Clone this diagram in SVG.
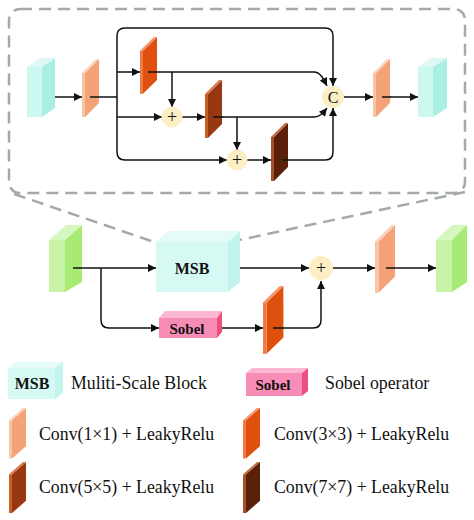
<svg xmlns="http://www.w3.org/2000/svg" xmlns:xlink="http://www.w3.org/1999/xlink" width="474" height="520" viewBox="0 0 474 520">
<style>
.ln{fill:none;stroke:#111;stroke-width:1.5}
.ar{marker-end:url(#ah)}
.dash{fill:none;stroke:#a3aaa8;stroke-width:2.5;stroke-dasharray:12 7}
.cyF{fill:#cdf8f0}.cyS{fill:#a9f0e3}.cyT{fill:#def9f5}
.msF{fill:#d6f9f4}.msS{fill:#c2f4ed}.msT{fill:#e4fbf8}
.grF{fill:#c8f3a6}.grS{fill:#a8eb74}.grT{fill:#d6f7bf}
.sbF{fill:#f78db6}.sbS{fill:#ee4f80}.sbT{fill:#fbb6d1}
.c1{--f:#f8c4a6;--s:#f4a277;--t:#fbd3bd}
.c3{--f:#f07a45;--s:#df4f0e;--t:#f4936a}
.c5{--f:#c85f28;--s:#983810;--t:#d9794a}
.c7{--f:#a5522a;--s:#5a2108;--t:#c0693f}
.f{fill:var(--f)}.s{fill:var(--s)}.t{fill:var(--t)}
.circ{fill:#fcefc6}
.tx{font-family:"Liberation Serif","Times New Roman",serif;fill:#111}
.bd{font-weight:bold}
.lg{font-size:17.8px}
</style>
<defs>
<marker id="ah" viewBox="0 0 10 10" refX="10" refY="5" markerWidth="9" markerHeight="8" markerUnits="userSpaceOnUse" orient="auto"><path d="M0,0 L10,5 L0,10 z" fill="#111"/></marker>
<g id="slab">
<path class="s" d="M3,14 L17,0 L17,44 L3,58 Z"/>
<path class="f" d="M0,14 L3,14 L3,58 L0,58 Z"/>
<path class="t" d="M0,14 L14,0 L17,0 L3,14 Z"/>
</g>
</defs>

<g id="zoom-frame">
<rect class="dash" x="9" y="9" width="456" height="184" rx="11"/>
<path class="dash" d="M14,194 L157,243"/>
<path class="dash" d="M465,192 L225,243"/>
</g>

<g id="connectors">
<path class="ln ar" d="M48,97 H82"/>
<path class="ln" d="M90,97 H117"/>
<path class="ln ar" d="M117,97 V36 Q117,28 125,28 H325 Q333,28 333,36 V86"/>
<path class="ln ar" d="M117,97 V152 Q117,160 125,160 H227"/>
<path class="ln ar" d="M117,72 H140"/>
<path class="ln ar" d="M148,72 H314 C320,72 323,78 327,86"/>
<path class="ln ar" d="M172,72 V107"/>
<path class="ln ar" d="M117,117 H162"/>
<path class="ln ar" d="M182,117 H205"/>
<path class="ln ar" d="M213,117 H314 C320,117 323,113 327,108"/>
<path class="ln ar" d="M237,117 V150"/>
<path class="ln ar" d="M247,160 H271"/>
<path class="ln ar" d="M282,160 H325 Q333,160 333,152 V108"/>
<path class="ln ar" d="M344,97 H373"/>
<path class="ln ar" d="M382,97 H418"/>

<path class="ln ar" d="M73,268 H156"/>
<path class="ln ar" d="M101,268 V320 Q101,328 109,328 H159"/>
<path class="ln ar" d="M234,268 H309"/>
<path class="ln ar" d="M333,268 H375"/>
<path class="ln ar" d="M386,268 H436"/>
<path class="ln ar" d="M218,328 H263"/>
<path class="ln ar" d="M273,328 H313 Q321,328 321,320 V281"/>
</g>

<g id="in-cube">
<path class="cyT" d="M27,67 L40,58 L55,58 L42,67 Z"/>
<path class="cyS" d="M42,67 L55,58 L55,108 L42,117 Z"/>
<path class="cyF" d="M27,67 H42 V117 H27 Z"/>
</g>
<g id="conv1-a" class="c1"><use xlink:href="#slab" transform="translate(82,59)"/></g>
<g id="conv3-a" class="c3"><use xlink:href="#slab" transform="translate(140,37) scale(1,0.98)"/></g>
<g id="conv5-a" class="c5"><use xlink:href="#slab" transform="translate(205,80)"/></g>
<g id="conv7-a" class="c7"><use xlink:href="#slab" transform="translate(271,123)"/></g>
<g id="conv1-b" class="c1"><use xlink:href="#slab" transform="translate(373,59)"/></g>
<g id="out-cube">
<path class="cyT" d="M418,67 L431,58 L447,58 L433,67 Z"/>
<path class="cyS" d="M433,67 L447,58 L447,108 L433,117 Z"/>
<path class="cyF" d="M418,67 H433 V117 H418 Z"/>
</g>
<g id="line-overlays">
<path class="ln" d="M90,97 H99"/>
<path class="ln" d="M148,72 H157"/>
<path class="ln" d="M213,117 H223"/>
<path class="ln" d="M282,160 H288"/>
<path class="ln" d="M382,97 H391"/>
</g>
<g id="concat"><circle class="circ" cx="333" cy="97" r="11"/><text class="tx" x="333" y="102.5" font-size="16" text-anchor="middle">C</text></g>
<g id="add-1"><circle class="circ" cx="172" cy="117" r="10.5"/><text class="tx" x="172" y="123" font-size="18" text-anchor="middle">+</text></g>
<g id="add-2"><circle class="circ" cx="237" cy="160" r="10.5"/><text class="tx" x="237" y="166" font-size="18" text-anchor="middle">+</text></g>

<g id="green-in">
<path class="grT" d="M49,240 L66,225 L82,225 L65,240 Z"/>
<path class="grS" d="M65,240 L82,225 L82,282 L65,292 Z"/>
<path class="grF" d="M49,240 H65 V292 H49 Z"/>
</g>
<path class="ln" d="M73,268 H82"/>
<g id="msb">
<path class="msT" d="M156,242 L168,231 L240,231 L228,242 Z"/>
<path class="msS" d="M228,242 L240,231 L240,282 L228,292 Z"/>
<path class="msF" d="M156,242 H228 V292 H156 Z"/>
<text class="tx bd" x="192" y="274" font-size="16" text-anchor="middle">MSB</text>
</g>
<g id="sobel">
<path class="sbT" d="M159,318 L165,311 L222,311 L217,318 Z"/>
<path class="sbS" d="M217,318 L222,311 L222,332 L217,338 Z"/>
<path class="sbF" d="M159,318 H217 V338 H159 Z"/>
<text class="tx bd" x="187" y="333.5" font-size="15" text-anchor="middle">Sobel</text>
</g>
<g id="conv3-b" class="c3"><use xlink:href="#slab" transform="translate(263,286) scale(1.2,1.17)"/></g>
<path class="ln" d="M273,328 H284"/>
<g id="add-3"><circle class="circ" cx="321" cy="268" r="12"/><text class="tx" x="321" y="274" font-size="18" text-anchor="middle">+</text></g>
<g id="conv1-c" class="c1"><use xlink:href="#slab" transform="translate(375,225) scale(1.18,1.17)"/></g>
<path class="ln" d="M386,268 H395"/>
<g id="green-out">
<path class="grT" d="M436,240 L452,225 L467,225 L452,240 Z"/>
<path class="grS" d="M452,240 L467,225 L467,282 L452,292 Z"/>
<path class="grF" d="M436,240 H452 V292 H436 Z"/>
</g>

<g id="legend">
<g id="lg-msb">
<path class="msT" d="M8,368 L16,362 L63,362 L55,368 Z"/>
<path class="msS" d="M55,368 L63,362 L63,393 L55,399 Z"/>
<path class="msF" d="M8,368 H55 V399 H8 Z"/>
<text class="tx bd" x="32" y="389" font-size="16" text-anchor="middle">MSB</text>
</g>
<text class="tx lg" x="71" y="389">Muliti-Scale Block</text>
<g id="lg-sobel">
<path class="sbT" d="M246,373 L252,368 L308,368 L302,373 Z"/>
<path class="sbS" d="M302,373 L308,368 L308,391 L302,396 Z"/>
<path class="sbF" d="M246,373 H302 V396 H246 Z"/>
<text class="tx bd" x="273" y="390" font-size="15" text-anchor="middle">Sobel</text>
</g>
<text class="tx lg" x="325" y="389">Sobel operator</text>
<g id="lg-c1" class="c1"><use xlink:href="#slab" transform="translate(9,408) scale(1,0.87)"/></g>
<text class="tx lg" x="39" y="440">Conv(1×1) + LeakyRelu</text>
<g id="lg-c3" class="c3"><use xlink:href="#slab" transform="translate(243,408) scale(1,0.87)"/></g>
<text class="tx lg" x="274" y="440">Conv(3×3) + LeakyRelu</text>
<g id="lg-c5" class="c5"><use xlink:href="#slab" transform="translate(9,462) scale(1,0.88)"/></g>
<text class="tx lg" x="39" y="493">Conv(5×5) + LeakyRelu</text>
<g id="lg-c7" class="c7"><use xlink:href="#slab" transform="translate(243,462) scale(1,0.88)"/></g>
<text class="tx lg" x="274" y="493">Conv(7×7) + LeakyRelu</text>
</g>
</svg>
